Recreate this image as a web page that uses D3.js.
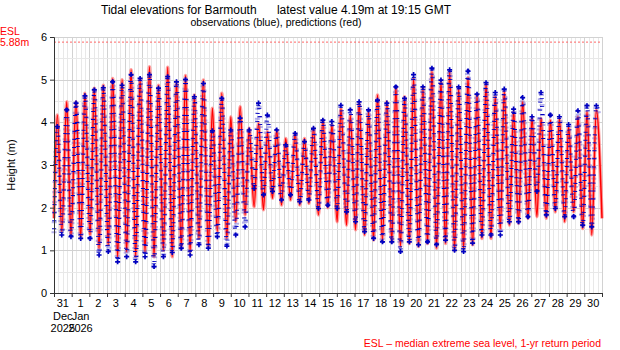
<html lang="en">
<head>
<meta charset="UTF-8">
<title>Tidal elevations for Barmouth</title>
<script src="https://d3js.org/d3.v7.min.js"></script>
<style>
    body { margin: 0; background: #fff; }
    svg { font-family: "Liberation Sans", Arial, sans-serif; }
</style>
</head>
<body>
<script>
    // times of high / low water, days after 31 Dec 2025 00:00 GMT
    const tideDay = [
        0.00, 0.19, 0.44, 0.72, 0.96, 1.245, 1.51, 1.75,
        2.04, 2.28, 2.55, 2.79, 3.07, 3.32, 3.60, 3.85,
        4.11, 4.36, 4.62, 4.87, 5.15, 5.40, 5.66, 5.91,
        6.19, 6.43, 6.69, 6.93, 7.20, 7.44, 7.70, 7.94,
        8.20, 8.45, 8.73, 8.96, 9.24, 9.49, 9.78, 10.00,
        10.28, 10.53, 10.81, 11.04, 11.32, 11.57, 11.85, 12.07,
        12.36, 12.60, 12.87, 13.11, 13.38, 13.64, 13.90, 14.17,
        14.42, 14.68, 14.96, 15.21, 15.49, 15.72, 16.02, 16.23,
        16.55, 16.76, 17.06, 17.26, 17.57, 17.79, 18.08, 18.30,
        18.58, 18.83, 19.11, 19.34, 19.60, 19.83, 20.10, 20.34,
        20.62, 20.87, 21.13, 21.38, 21.64, 21.89, 22.15, 22.38,
        22.66, 22.89, 23.17, 23.42, 23.68, 23.93, 24.21, 24.44,
        24.72, 24.96, 25.25, 25.47, 25.76, 26.00, 26.28, 26.51,
        26.81, 27.04, 27.32, 27.55, 27.85, 28.08, 28.36, 28.59,
        28.89, 29.11, 29.40, 29.64, 29.91, 30.15, 30.42, 30.68,
        30.80, 31.00
    ];
    // predicted heights (m)
    const predicted = [
        1.75, 4.17, 1.44, 4.48, 1.36, 4.48, 1.28, 4.68,
        1.36, 4.80, 1.05, 4.87, 1.13, 5.03, 0.85, 5.00,
        0.97, 5.23, 0.85, 5.03, 0.97, 5.30, 0.85, 4.87,
        1.00, 5.29, 0.85, 4.95, 1.05, 5.10, 0.97, 4.64,
        1.28, 4.99, 1.09, 4.33, 1.44, 4.68, 1.28, 4.13,
        1.67, 4.37, 1.83, 3.86, 2.02, 3.98, 1.95, 3.78,
        2.22, 3.82, 2.06, 3.62, 2.18, 3.74, 2.06, 3.62,
        2.10, 3.86, 1.83, 4.05, 2.00, 3.94, 1.67, 4.33,
        1.59, 4.17, 1.48, 4.45, 1.36, 4.25, 1.24, 4.64,
        1.24, 4.48, 1.20, 4.83, 1.09, 4.60, 1.16, 5.03,
        1.09, 4.81, 1.16, 5.19, 1.05, 4.95, 1.16, 5.19,
        1.00, 4.80, 1.05, 5.05, 1.13, 4.64, 1.28, 4.91,
        1.28, 4.60, 1.51, 4.72, 1.59, 4.25, 1.63, 4.48,
        1.75, 4.09, 1.79, 4.09, 1.75, 4.05, 1.90, 4.09,
        1.67, 3.90, 1.90, 4.13, 1.51, 4.25, 1.36, 4.29,
        null, 1.75
    ];
    // observed heights (m)
    const observed = [
        1.40, 3.90, 1.36, 4.29, 1.32, 4.45, 1.28, 4.62,
        1.28, 4.76, 0.89, 4.81, 0.97, 4.95, 0.73, 4.87,
        0.85, 5.12, 0.73, 5.03, 0.85, 5.12, 0.62, 4.80,
        0.85, 5.07, 0.95, 4.95, 1.05, 5.00, 0.89, 4.60,
        1.13, 4.91, 1.05, 3.80, 1.32, 4.56, 1.10, 3.82,
        1.36, 4.10, 1.55, 3.82, 2.45, 4.45, 2.30, 4.17,
        2.38, 3.82, 2.18, 3.47, 2.30, 3.74, 2.14, 3.55,
        2.18, 3.86, 1.98, 4.05, 2.06, 4.02, 1.98, 4.40,
        1.90, 4.29, 1.67, 4.48, 1.44, 4.29, 1.28, 4.52,
        1.20, 4.45, 1.20, 4.83, 0.97, 4.56, 1.20, 5.12,
        1.13, 4.83, 1.20, 5.27, 1.13, 4.99, 1.24, 5.23,
        1.00, 4.83, 0.97, 5.20, 1.17, 4.66, 1.36, 4.93,
        1.36, 4.70, 1.36, 4.78, 1.67, 4.31, 1.67, 4.58,
        1.79, 4.13, 2.38, 4.70, 1.83, 4.17, 1.98, 4.13,
        1.79, 3.95, 1.79, 4.27, 1.59, 4.39, 1.55, 4.39,
        4.19, null
    ];
    const eslValue = 5.88;
    const yTicks = [0, 1, 2, 3, 4, 5, 6];
    const dayLabels = ['31', '1', '2', '3', '4', '5', '6', '7', '8', '9', '10', '11', '12', '13', '14', '15',
        '16', '17', '18', '19', '20', '21', '22', '23', '24', '25', '26', '27', '28', '29', '30'];
    const monthLabels = ['Dec', 'Jan'];
    const yearLabels = ['2025', '2026'];

    const w = 620, h = 350;
    const plotL = 54, plotR = 602, plotT = 37, plotB = 293;
    const t0 = Date.UTC(2025, 11, 31);
    const toDate = d => new Date(t0 + d * 864e5);

    const svg = d3.select('body').append('svg')
        .attr('width', w)
        .attr('height', h);

    const xScale = d3.scaleUtc()
        .domain([toDate(0), toDate(31)])
        .range([plotL, plotR]);
    const yScale = d3.scaleLinear()
        .domain([0, 6])
        .range([plotB, plotT]);

    // grid
    const grid = svg.append('g');
    grid.selectAll('.vg')
        .data(d3.utcHour.every(6).range(toDate(0), toDate(31.01)))
        .enter().append('line')
        .attr('x1', d => Math.round(xScale(d)) + 0.5).attr('x2', d => Math.round(xScale(d)) + 0.5)
        .attr('y1', plotT).attr('y2', plotB)
        .attr('stroke', d => d.getUTCHours() === 0 ? '#d2d2d2' : '#e8e8e8')
        .attr('stroke-width', 1);
    grid.selectAll('.hg')
        .data(d3.range(0.5, 6.01, 0.5))
        .enter().append('line')
        .attr('x1', plotL).attr('x2', plotR)
        .attr('y1', d => Math.round(yScale(d)) + 0.5).attr('y2', d => Math.round(yScale(d)) + 0.5)
        .attr('stroke', d => d % 1 === 0 ? '#d2d2d2' : '#e8e8e8');

    // ESL line
    svg.append('line')
        .attr('x1', plotL).attr('x2', plotR)
        .attr('y1', yScale(eslValue)).attr('y2', yScale(eslValue))
        .attr('stroke', '#f66')
        .attr('stroke-dasharray', '2,2');

    const predPts = tideDay.map((d, i) => [toDate(d), predicted[i]]).filter(p => p[1] != null);
    const obsPts = tideDay.map((d, i) => [toDate(d), observed[i]]).filter(p => p[1] != null);

    const line = d3.line()
        .x(d => xScale(d[0]))
        .y(d => yScale(d[1]))
        .curve(d3.curveMonotoneX);

    // predictions, broad pale band
    svg.append('path')
        .attr('d', line(predPts))
        .attr('fill', 'none')
        .attr('stroke', '#f88')
        .attr('stroke-opacity', 0.8)
        .attr('stroke-width', 3.5);

    // observations, faint marks
    svg.append('path')
        .attr('d', line(obsPts))
        .attr('fill', 'none')
        .attr('stroke', '#6a5fd8')
        .attr('stroke-opacity', 0.5)
        .attr('stroke-width', 5)
        .attr('stroke-dasharray', '2,8');

    // predictions
    svg.append('path')
        .attr('d', line(predPts))
        .attr('fill', 'none')
        .attr('stroke', '#ff0000')
        .attr('stroke-width', 1.5);

    // observations, dark marks
    svg.append('path')
        .attr('d', line(obsPts))
        .attr('fill', 'none')
        .attr('stroke', '#0000c0')
        .attr('stroke-width', 4.2)
        .attr('stroke-dasharray', '1,7')
        .attr('stroke-dashoffset', -4);

    // observed turning points
    svg.append('g').selectAll('path')
        .data(obsPts.slice(1, -1))
        .enter().append('path')
        .attr('transform', d => `translate(${xScale(d[0])},${yScale(d[1])})`)
        .attr('d', d3.symbol(d3.symbolCross, 14))
        .attr('fill', '#0000c0');

    // axes
    const yAxis = d3.axisLeft(yScale).tickValues(yTicks).tickSize(4).tickFormat(d3.format('d'));
    svg.append('g')
        .attr('transform', `translate(${plotL},0)`)
        .call(yAxis)
        .call(g => g.selectAll('text').style('font-size', '11px').attr('fill', '#000'))
        .call(g => g.selectAll('line, path').attr('stroke', '#333'));

    const xAxis = d3.axisBottom(xScale)
        .ticks(d3.utcDay.every(1))
        .tickSize(4)
        .tickFormat('');
    svg.append('g')
        .attr('transform', `translate(0,${plotB})`)
        .call(xAxis)
        .call(g => g.selectAll('line, path').attr('stroke', '#333'));

    const noon = dayLabels.map((d, i) => toDate(i + 0.5));
    svg.append('g').selectAll('text')
        .data(dayLabels)
        .enter().append('text')
        .attr('x', (d, i) => xScale(noon[i]))
        .attr('y', 307)
        .attr('text-anchor', 'middle')
        .style('font-size', '11px')
        .text(d => d);
    svg.append('g').selectAll('text')
        .data(monthLabels)
        .enter().append('text')
        .attr('x', (d, i) => xScale(noon[i]))
        .attr('y', 319.5)
        .attr('text-anchor', 'middle')
        .style('font-size', '11px')
        .text(d => d);
    svg.append('g').selectAll('text')
        .data(yearLabels)
        .enter().append('text')
        .attr('x', (d, i) => xScale(noon[i]))
        .attr('y', 332)
        .attr('text-anchor', 'middle')
        .style('font-size', '11px')
        .text(d => d);

    svg.append('text')
        .attr('transform', `translate(15,${(plotT + plotB) / 2}) rotate(-90)`)
        .attr('text-anchor', 'middle')
        .style('font-size', '11px')
        .text('Height (m)');

    // titles
    svg.append('text')
        .attr('x', 101).attr('y', 13.5)
        .style('font-size', '12px')
        .text('Tidal elevations for Barmouth');
    svg.append('text')
        .attr('x', 451).attr('y', 13.5)
        .attr('text-anchor', 'end')
        .style('font-size', '12px')
        .text('latest value 4.19m at 19:15 GMT');
    svg.append('text')
        .attr('x', 276).attr('y', 26)
        .attr('text-anchor', 'middle')
        .style('font-size', '10.5px')
        .text('observations (blue), predictions (red)');

    // ESL labels
    svg.append('text')
        .attr('x', 0).attr('y', 35)
        .attr('fill', '#f00')
        .style('font-size', '10.5px')
        .text('ESL');
    svg.append('text')
        .attr('x', 0).attr('y', 46)
        .attr('fill', '#f00')
        .style('font-size', '10.5px')
        .text(eslValue.toFixed(2) + 'm');
    svg.append('text')
        .attr('x', 601).attr('y', 347)
        .attr('text-anchor', 'end')
        .attr('fill', '#f00')
        .style('font-size', '10.5px')
        .text('ESL \u2013 median extreme sea level, 1-yr return period');
</script>
</body>
</html>
